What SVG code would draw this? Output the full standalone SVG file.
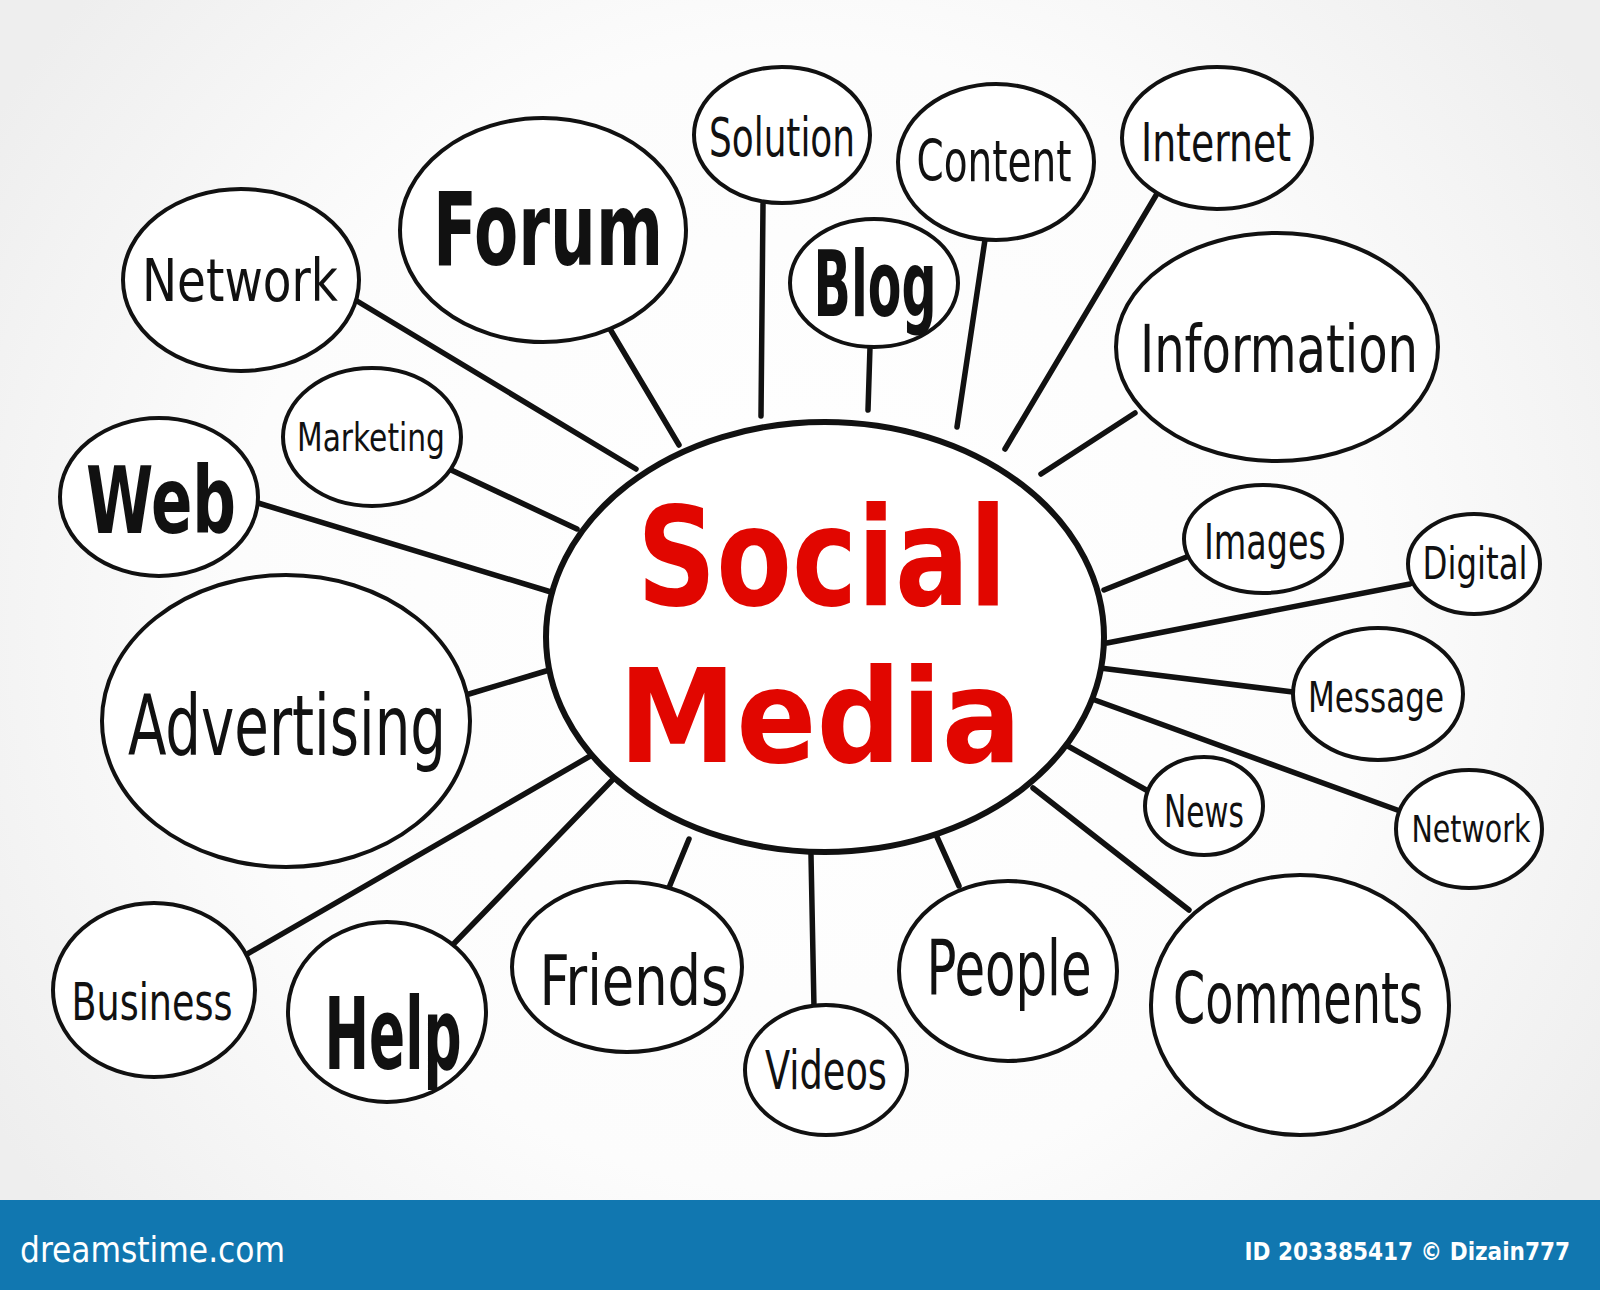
<svg xmlns="http://www.w3.org/2000/svg" width="1600" height="1290" viewBox="0 0 1600 1290">
<defs>
<radialGradient id="bg" cx="800" cy="620" r="950" gradientUnits="userSpaceOnUse">
<stop offset="0" stop-color="#ffffff"/>
<stop offset="0.6" stop-color="#fcfcfc"/>
<stop offset="1" stop-color="#eeeeee"/>
</radialGradient>
<style>
.n{fill:#ffffff;stroke:#111;stroke-width:4}
.c{fill:none;stroke:#111;stroke-width:5.5;stroke-linecap:round}
.t{font-family:"DejaVu Sans Condensed","DejaVu Sans",sans-serif;fill:#111;text-anchor:middle}
.b{font-weight:bold}
.r{font-family:"DejaVu Sans Condensed","DejaVu Sans",sans-serif;fill:#e10600;font-weight:bold;text-anchor:middle}
.f{font-family:"DejaVu Sans Condensed","DejaVu Sans",sans-serif;fill:#ffffff}
</style>
</defs>
<rect x="0" y="0" width="1600" height="1200" fill="url(#bg)"/>
<g id="connectors">
<line class="c" x1="763" y1="204" x2="761" y2="416"/>
<line class="c" x1="986" y1="233" x2="957" y2="427"/>
<line class="c" x1="1158" y1="192" x2="1005" y2="449"/>
<line class="c" x1="610" y1="329" x2="679" y2="445"/>
<line class="c" x1="357" y1="301" x2="636" y2="469"/>
<line class="c" x1="870" y1="347" x2="868" y2="410"/>
<line class="c" x1="1135" y1="413" x2="1041" y2="474"/>
<line class="c" x1="449" y1="469" x2="577" y2="529"/>
<line class="c" x1="258" y1="503" x2="551" y2="592"/>
<line class="c" x1="469" y1="694" x2="546" y2="671"/>
<line class="c" x1="242" y1="957" x2="592" y2="755"/>
<line class="c" x1="439" y1="959" x2="622" y2="770"/>
<line class="c" x1="668" y1="890" x2="689" y2="839"/>
<line class="c" x1="814" y1="1008" x2="811" y2="855"/>
<line class="c" x1="959" y1="886" x2="937" y2="837"/>
<line class="c" x1="1189" y1="910" x2="1033" y2="788"/>
<line class="c" x1="1148" y1="791" x2="1066" y2="745"/>
<line class="c" x1="1400" y1="811" x2="1092" y2="699"/>
<line class="c" x1="1293" y1="692" x2="1100" y2="668"/>
<line class="c" x1="1410" y1="584" x2="1107" y2="643"/>
<line class="c" x1="1189" y1="556" x2="1104" y2="590"/>
</g>
<g id="center">
<ellipse cx="825" cy="637" rx="279" ry="215" fill="#fff" stroke="#111" stroke-width="6"/>
<text class="r" x="822" y="605" font-size="138" textLength="370" lengthAdjust="spacingAndGlyphs">Social</text>
<text class="r" x="820" y="762" font-size="130" textLength="403" lengthAdjust="spacingAndGlyphs">Media</text>
</g>
<g id="n-solution"><ellipse class="n" cx="782" cy="135" rx="88" ry="68"/><text class="t" x="782" y="156" font-size="53" textLength="146" lengthAdjust="spacingAndGlyphs">Solution</text></g>
<g id="n-content"><ellipse class="n" cx="996" cy="162" rx="98" ry="78"/><text class="t" x="994" y="181" font-size="57" textLength="155" lengthAdjust="spacingAndGlyphs">Content</text></g>
<g id="n-internet"><ellipse class="n" cx="1217" cy="138" rx="95" ry="71"/><text class="t" x="1216" y="161" font-size="53" textLength="150" lengthAdjust="spacingAndGlyphs">Internet</text></g>
<g id="n-forum"><ellipse class="n" cx="543" cy="230" rx="143" ry="112"/><text class="t b" x="548" y="265" font-size="102" textLength="230" lengthAdjust="spacingAndGlyphs">Forum</text></g>
<g id="n-network-left"><ellipse class="n" cx="241" cy="280" rx="118" ry="91"/><text class="t" x="240" y="301" font-size="58" textLength="196" lengthAdjust="spacingAndGlyphs">Network</text></g>
<g id="n-blog"><ellipse class="n" cx="874" cy="283" rx="84" ry="64"/><text class="t b" x="875" y="316" font-size="90" textLength="123" lengthAdjust="spacingAndGlyphs">Blog</text></g>
<g id="n-information"><ellipse class="n" cx="1277" cy="347" rx="161" ry="114"/><text class="t" x="1279" y="372" font-size="66" textLength="278" lengthAdjust="spacingAndGlyphs">Information</text></g>
<g id="n-marketing"><ellipse class="n" cx="372" cy="437" rx="89" ry="69"/><text class="t" x="371" y="451" font-size="39" textLength="148" lengthAdjust="spacingAndGlyphs">Marketing</text></g>
<g id="n-web"><ellipse class="n" cx="159" cy="497" rx="99" ry="79"/><text class="t b" x="161" y="533" font-size="93" textLength="150" lengthAdjust="spacingAndGlyphs">Web</text></g>
<g id="n-advertising"><ellipse class="n" cx="286" cy="721" rx="184" ry="146"/><text class="t" x="287" y="755" font-size="84" textLength="318" lengthAdjust="spacingAndGlyphs">Advertising</text></g>
<g id="n-images"><ellipse class="n" cx="1263" cy="539" rx="79" ry="54"/><text class="t" x="1265" y="559" font-size="50" textLength="122" lengthAdjust="spacingAndGlyphs">Images</text></g>
<g id="n-digital"><ellipse class="n" cx="1474" cy="564" rx="66" ry="50"/><text class="t" x="1475" y="579" font-size="45" textLength="105" lengthAdjust="spacingAndGlyphs">Digital</text></g>
<g id="n-message"><ellipse class="n" cx="1378" cy="694" rx="85" ry="66"/><text class="t" x="1376" y="712" font-size="42" textLength="136" lengthAdjust="spacingAndGlyphs">Message</text></g>
<g id="n-news"><ellipse class="n" cx="1204" cy="806" rx="59" ry="49"/><text class="t" x="1204" y="827" font-size="45" textLength="80" lengthAdjust="spacingAndGlyphs">News</text></g>
<g id="n-network-right"><ellipse class="n" cx="1469" cy="829" rx="73" ry="59"/><text class="t" x="1471" y="842" font-size="37" textLength="119" lengthAdjust="spacingAndGlyphs">Network</text></g>
<g id="n-comments"><ellipse class="n" cx="1300" cy="1005" rx="149" ry="130"/><text class="t" x="1298" y="1023" font-size="71" textLength="250" lengthAdjust="spacingAndGlyphs">Comments</text></g>
<g id="n-people"><ellipse class="n" cx="1008" cy="971" rx="109" ry="90"/><text class="t" x="1009" y="995" font-size="77" textLength="165" lengthAdjust="spacingAndGlyphs">People</text></g>
<g id="n-videos"><ellipse class="n" cx="826" cy="1070" rx="81" ry="65"/><text class="t" x="826" y="1089" font-size="53" textLength="122" lengthAdjust="spacingAndGlyphs">Videos</text></g>
<g id="n-friends"><ellipse class="n" cx="627" cy="967" rx="115" ry="85"/><text class="t" x="634" y="1005" font-size="70" textLength="189" lengthAdjust="spacingAndGlyphs">Friends</text></g>
<g id="n-help"><ellipse class="n" cx="387" cy="1012" rx="99" ry="90"/><text class="t b" x="393" y="1069" font-size="100" textLength="137" lengthAdjust="spacingAndGlyphs">Help</text></g>
<g id="n-business"><ellipse class="n" cx="154" cy="990" rx="101" ry="87"/><text class="t" x="152" y="1020" font-size="52" textLength="161" lengthAdjust="spacingAndGlyphs">Business</text></g>
<g id="footer">
<rect x="0" y="1200" width="1600" height="90" fill="#1177b0"/>
<text class="f" x="20" y="1262" font-size="36" textLength="265" lengthAdjust="spacingAndGlyphs">dreamstime.com</text>
<text class="f" x="1570" y="1260" font-size="24" font-weight="bold" text-anchor="end">ID 203385417 © Dizain777</text>
</g>
</svg>
